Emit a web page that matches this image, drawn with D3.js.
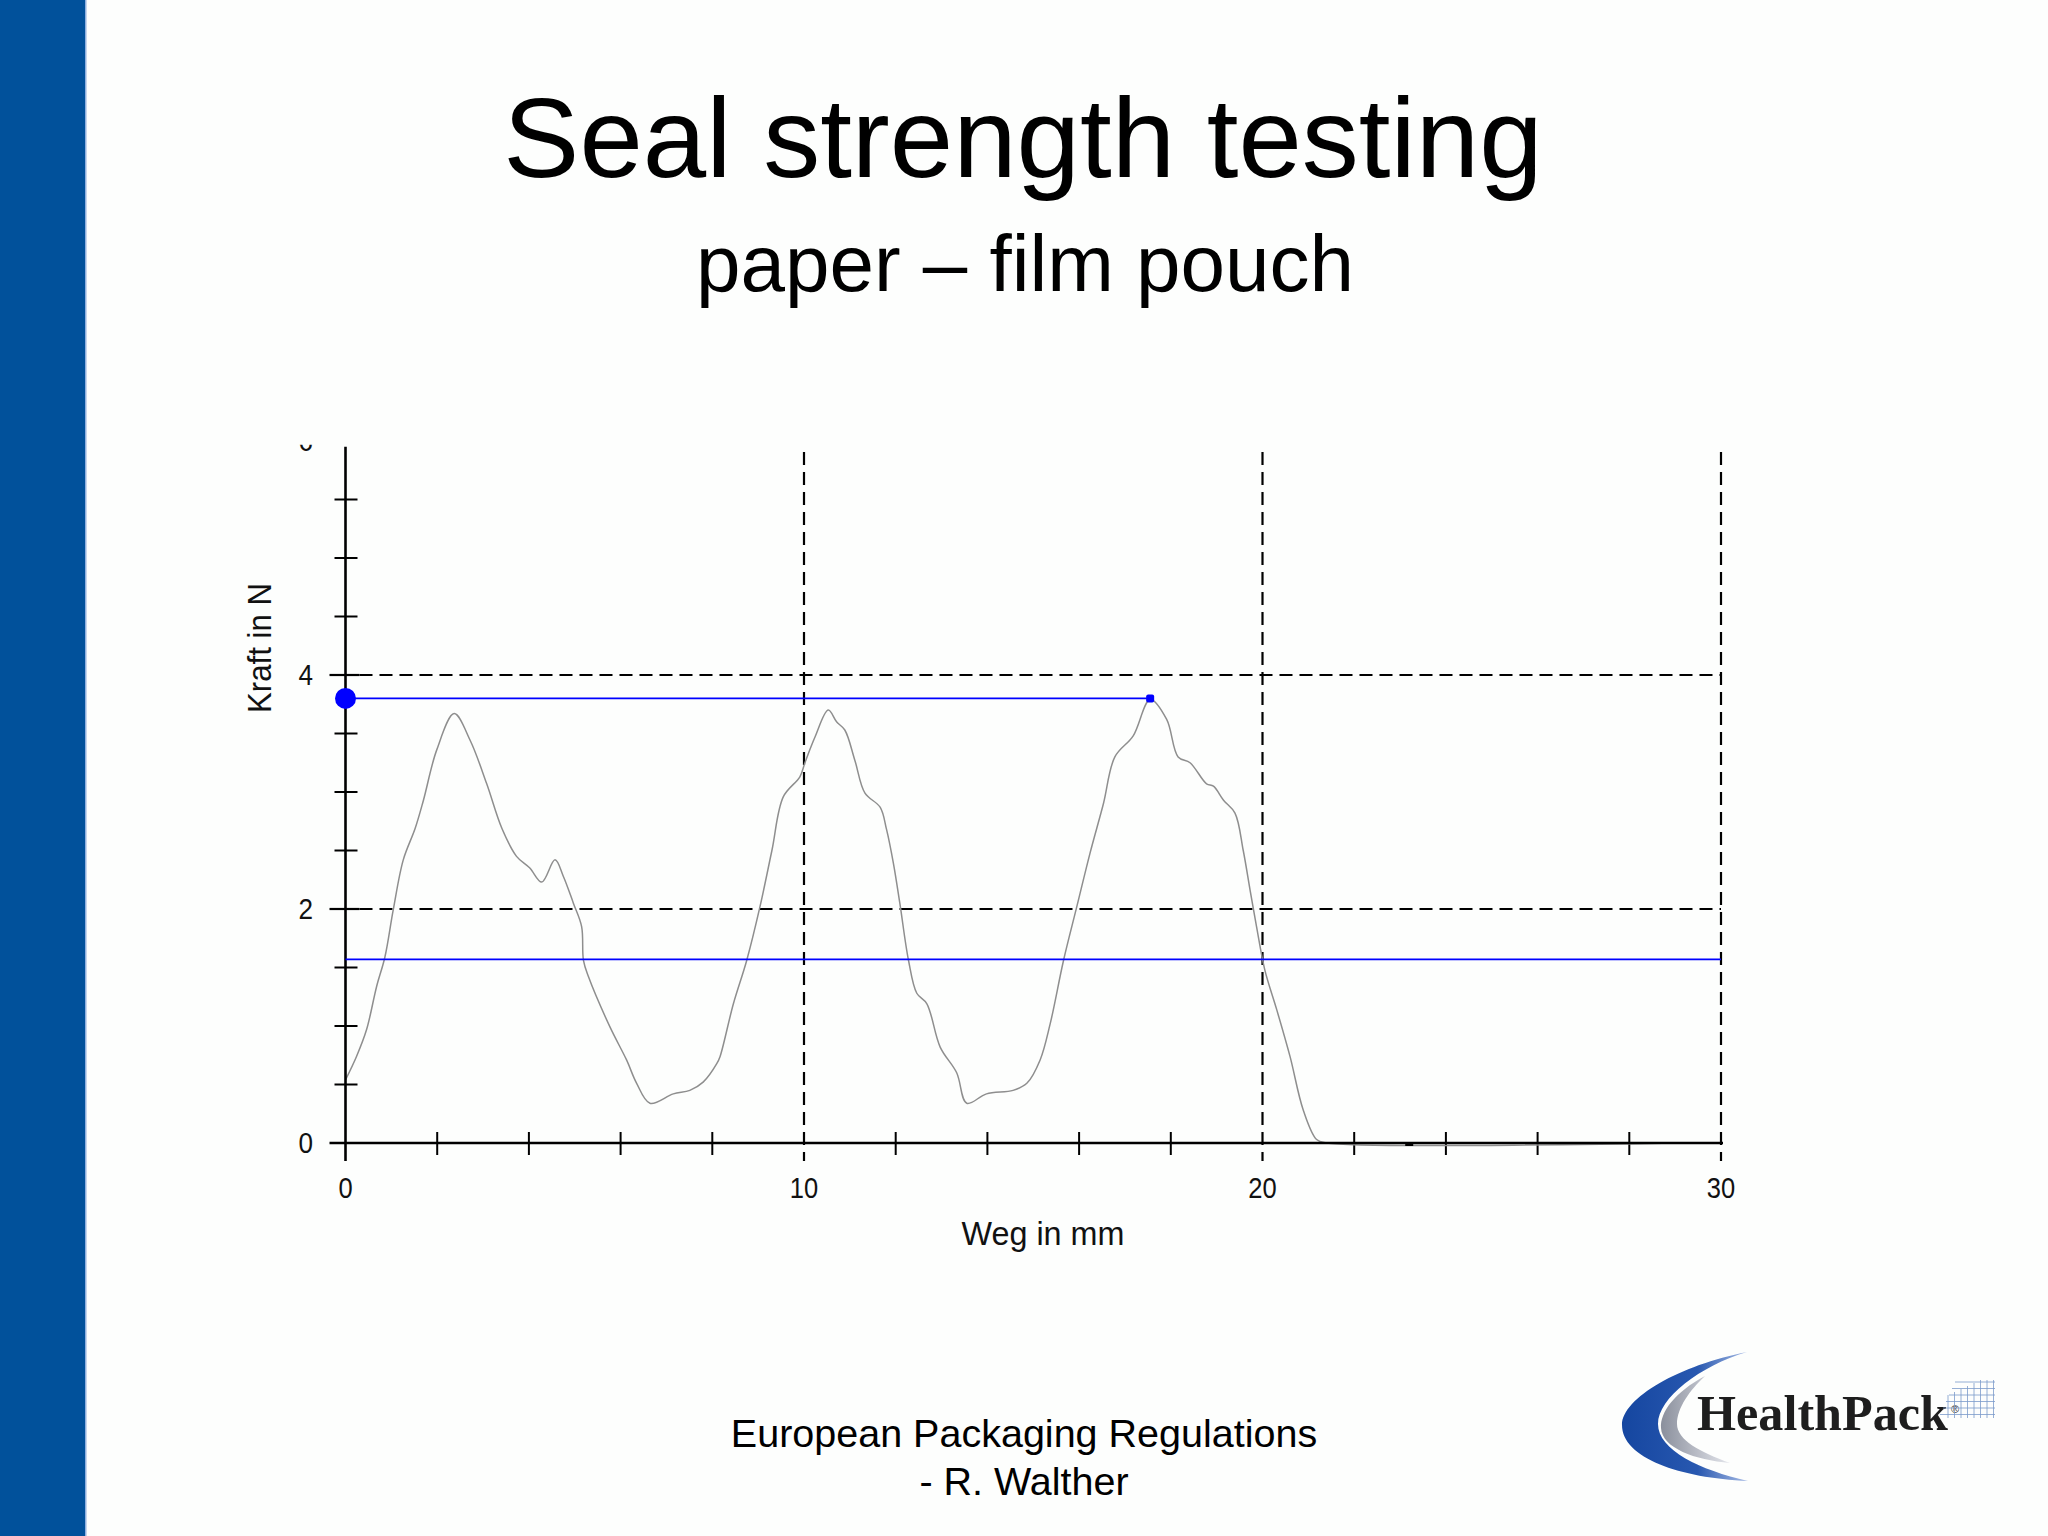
<!DOCTYPE html>
<html>
<head>
<meta charset="utf-8">
<script src="https://cdn.jsdelivr.net/npm/d3@7"></script>
<style>
  html, body { margin: 0; padding: 0; background: #fdfefd; }
  svg { display: block; }
</style>
</head>
<body>
<svg id="chart" width="2048" height="1536"></svg>
<script>
// ---------- data ----------
const titleText = "Seal strength testing";
const subtitleText = "paper \u2013 film pouch";
const footerLines = ["European Packaging Regulations", "- R. Walther"];
const xAxisTitle = "Weg in mm";
const yAxisTitle = "Kraft in N";

const xLabelTicks = [0, 10, 20, 30];
const xMinorTicks = [2, 4, 6, 8, 12, 14, 16, 18, 22, 24, 26, 28];
const yLabelTicks = [0, 2, 4, 6];
const yMinorTicks = [0.5, 1, 1.5, 2.5, 3, 3.5, 4.5, 5, 5.5];
const xGridValues = [10, 20, 30];
const yGridValues = [2, 4];

// Weg (mm) and Kraft (N) of the measured curve
const wegMm = [0, 0.24, 0.46, 0.68, 0.86, 1.04, 1.26, 1.52, 1.70, 1.99, 2.37, 2.72, 3.08, 3.41, 3.73, 4.02, 4.28, 4.57, 4.75, 4.97, 5.15, 5.19, 5.30, 5.77, 6.13, 6.35, 6.64, 7.15, 7.51, 7.80, 8.10, 8.17, 8.46, 8.75, 9.04, 9.30, 9.55, 9.91, 10.02, 10.24, 10.53, 10.71, 10.89, 11.11, 11.33, 11.66, 11.80, 11.95, 12.09, 12.28, 12.46, 12.68, 12.97, 13.33, 13.55, 13.98, 14.56, 14.86, 15.15, 15.37, 15.66, 15.95, 16.24, 16.53, 16.78, 17.18, 17.55, 17.91, 18.16, 18.42, 18.78, 18.93, 19.15, 19.40, 19.58, 19.73, 19.87, 20.05, 20.31, 20.60, 20.89, 21.18, 21.40, 29.0];
const kraftN = [0.54, 0.74, 0.97, 1.34, 1.59, 1.99, 2.42, 2.69, 2.93, 3.36, 3.67, 3.44, 3.07, 2.69, 2.45, 2.35, 2.23, 2.42, 2.28, 2.05, 1.85, 1.56, 1.42, 0.99, 0.71, 0.51, 0.34, 0.42, 0.45, 0.52, 0.68, 0.74, 1.19, 1.56, 2.02, 2.50, 2.96, 3.13, 3.25, 3.47, 3.70, 3.60, 3.53, 3.27, 2.99, 2.87, 2.68, 2.39, 2.05, 1.56, 1.28, 1.19, 0.82, 0.60, 0.34, 0.42, 0.45, 0.51, 0.71, 1.02, 1.56, 2.02, 2.48, 2.90, 3.30, 3.48, 3.79, 3.62, 3.30, 3.25, 3.07, 3.05, 2.93, 2.82, 2.50, 2.16, 1.85, 1.48, 1.14, 0.74, 0.28, 0.03, 0, 0];

const maxForce = 3.8;       // upper blue line (Fmax)
const maxForceWeg = 17.55;  // position of Fmax
const meanForce = 1.57;     // lower blue line
const cursorWeg = 23.2;     // small marker on the axis

// ---------- drawing ----------
const svg = d3.select("#chart");
const FONT = "'Liberation Sans', Arial, Helvetica, sans-serif";

svg.append("rect").attr("x", 0).attr("y", 0).attr("width", 2048).attr("height", 1536).attr("fill", "#fdfefd");
svg.append("rect").attr("x", 0).attr("y", 0).attr("width", 85).attr("height", 1536).attr("fill", "#01519b");
svg.append("rect").attr("x", 85).attr("y", 0).attr("width", 1.5).attr("height", 1536).attr("fill", "#8fb0e0");

// titles
svg.append("text").text(titleText)
  .attr("x", 1023).attr("y", 177).attr("text-anchor", "middle")
  .attr("font-family", FONT).attr("font-size", 114).attr("fill", "#000");
svg.append("text").text(subtitleText)
  .attr("x", 1025).attr("y", 291).attr("text-anchor", "middle")
  .attr("font-family", FONT).attr("font-size", 80).attr("fill", "#000");

// footer
svg.selectAll("text.footer").data(footerLines).join("text")
  .attr("class", "footer").text(d => d)
  .attr("x", 1024).attr("y", (d, i) => 1447 + i * 48).attr("text-anchor", "middle")
  .attr("font-family", FONT).attr("font-size", 39.5).attr("fill", "#000");

// scales
const x = d3.scaleLinear().domain([0, 30]).range([345.5, 1721]);
const y = d3.scaleLinear().domain([0, 6]).range([1143, 441]);

const g = svg.append("g");

// dashed grid lines
g.selectAll("line.hgrid").data(yGridValues).join("line")
  .attr("x1", x(0) + 14).attr("x2", x(30))
  .attr("y1", d => y(d)).attr("y2", d => y(d))
  .attr("stroke", "#000").attr("stroke-width", 2.2).attr("stroke-dasharray", "13,7");
g.selectAll("line.vgrid").data(xGridValues).join("line")
  .attr("x1", d => x(d)).attr("x2", d => x(d))
  .attr("y1", 452).attr("y2", y(0) + 18)
  .attr("stroke", "#000").attr("stroke-width", 2.2).attr("stroke-dasharray", "13,7");

// y ticks (crossing the axis)
g.selectAll("line.ymin").data(yMinorTicks).join("line")
  .attr("x1", x(0) - 11).attr("x2", x(0) + 12)
  .attr("y1", d => y(d)).attr("y2", d => y(d))
  .attr("stroke", "#000").attr("stroke-width", 2);
g.selectAll("line.ymaj").data(yLabelTicks.filter(v => v > 0 && v < 6)).join("line")
  .attr("x1", x(0) - 16).attr("x2", x(0) + 14)
  .attr("y1", d => y(d)).attr("y2", d => y(d))
  .attr("stroke", "#000").attr("stroke-width", 2.2);

// x ticks
g.selectAll("line.xmin").data(xMinorTicks).join("line")
  .attr("x1", d => x(d)).attr("x2", d => x(d))
  .attr("y1", y(0) - 11).attr("y2", y(0) + 12)
  .attr("stroke", "#000").attr("stroke-width", 2);

// measured curve (under the axes)
const pts = wegMm.map((w, i) => [w, kraftN[i]]);
g.append("path").datum(pts)
  .attr("d", d3.line().curve(d3.curveCatmullRom.alpha(0.5)).x(d => x(d[0])).y(d => y(d[1])))
  .attr("fill", "none").attr("stroke", "#8e8e8e").attr("stroke-width", 1.5);

// axes lines
g.append("line").attr("x1", x(0)).attr("x2", x(0)).attr("y1", y(5.95)).attr("y2", y(0) + 18)
  .attr("stroke", "#000").attr("stroke-width", 2.6);
g.append("line").attr("x1", x(0) - 16).attr("x2", x(30) + 2).attr("y1", y(0)).attr("y2", y(0))
  .attr("stroke", "#000").attr("stroke-width", 2.6);

// tick labels
g.selectAll("text.xl").data(xLabelTicks).join("text")
  .attr("class", "xl").text(d => d)
  .attr("x", d => x(d)).attr("y", y(0) + 55).attr("text-anchor", "middle")
  .attr("font-family", FONT).attr("font-size", 29).attr("fill", "#111")
  .attr("transform", d => `translate(${x(d)},0) scale(0.88,1) translate(${-x(d)},0)`);

svg.append("clipPath").attr("id", "topclip").append("rect")
  .attr("x", 250).attr("y", y(5.95) - 2).attr("width", 100).attr("height", 800);
g.selectAll("text.yl").data(yLabelTicks).join("text")
  .attr("class", "yl").text(d => d)
  .attr("x", 313).attr("y", d => y(d) + 10.5).attr("text-anchor", "end")
  .attr("font-family", FONT).attr("font-size", 29).attr("fill", "#111")
  .attr("transform", "translate(313,0) scale(0.9,1) translate(-313,0)")
  .attr("clip-path", "url(#topclip)");

// axis titles
g.append("text").text(xAxisTitle)
  .attr("x", 1043).attr("y", 1245).attr("text-anchor", "middle")
  .attr("font-family", FONT).attr("font-size", 34).attr("fill", "#111")
  .attr("textLength", 163).attr("lengthAdjust", "spacingAndGlyphs");
g.append("text").text(yAxisTitle)
  .attr("transform", "translate(271,648) rotate(-90)")
  .attr("text-anchor", "middle")
  .attr("font-family", FONT).attr("font-size", 33).attr("fill", "#111")
  .attr("textLength", 130).attr("lengthAdjust", "spacingAndGlyphs");

// blue result lines
g.append("line").attr("x1", x(0)).attr("x2", x(maxForceWeg))
  .attr("y1", y(maxForce)).attr("y2", y(maxForce))
  .attr("stroke", "#0000ff").attr("stroke-width", 1.8);
g.append("line").attr("x1", x(0)).attr("x2", x(30))
  .attr("y1", y(meanForce)).attr("y2", y(meanForce))
  .attr("stroke", "#0000ff").attr("stroke-width", 1.8);
g.append("circle").attr("cx", x(0)).attr("cy", y(maxForce)).attr("r", 10.5).attr("fill", "#0000ff");
g.append("rect").attr("x", x(maxForceWeg) - 4).attr("y", y(maxForce) - 4)
  .attr("width", 8).attr("height", 8).attr("rx", 2).attr("fill", "#0000ff");

// small cursor mark
g.append("rect").attr("x", x(cursorWeg) - 4).attr("y", y(0) - 1).attr("width", 8).attr("height", 4).attr("fill", "#000");

// ---------- logo ----------
const defs = svg.append("defs");
const gb = defs.append("linearGradient").attr("id", "blueGrad").attr("x1", "0").attr("x2", "1").attr("y1", "0").attr("y2", "0");
gb.append("stop").attr("offset", "0").attr("stop-color", "#1546a0");
gb.append("stop").attr("offset", "0.6").attr("stop-color", "#2858b0");
gb.append("stop").attr("offset", "1").attr("stop-color", "#a9bde6");
const gg = defs.append("linearGradient").attr("id", "grayGrad").attr("x1", "0").attr("x2", "1").attr("y1", "0").attr("y2", "0");
gg.append("stop").attr("offset", "0").attr("stop-color", "#8a8f9c");
gg.append("stop").attr("offset", "1").attr("stop-color", "#e4e6ec");

const logo = svg.append("g");
logo.append("path")
  .attr("d", "M1747 1352 C1680 1365 1622 1398 1622 1425 C1622 1458 1680 1478 1748 1481 C1700 1470 1658 1450 1658 1424 C1658 1398 1700 1366 1747 1352 Z")
  .attr("fill", "url(#blueGrad)");
logo.append("path")
  .attr("d", "M1705 1376 C1675 1392 1660 1412 1661 1428 C1662 1448 1695 1460 1730 1463 C1700 1452 1677 1440 1677 1424 C1677 1408 1690 1390 1705 1376 Z")
  .attr("fill", "url(#grayGrad)");
logo.append("text").text("HealthPack")
  .attr("x", 1697).attr("y", 1430)
  .attr("font-family", "'Liberation Serif', 'Times New Roman', serif").attr("font-weight", "bold")
  .attr("font-size", 50).attr("fill", "#1e1e1e")
  .attr("textLength", 251).attr("lengthAdjust", "spacingAndGlyphs");
logo.append("text").text("\u00ae")
  .attr("x", 1951).attr("y", 1413).attr("font-family", FONT).attr("font-size", 11).attr("fill", "#333");
// grid decoration
const gridCols = d3.range(0, 8), gridRows = d3.range(0, 6);
logo.selectAll("line.lgv").data(gridCols).join("line")
  .attr("x1", d => 1948 + d * 6.5).attr("x2", d => 1948 + d * 6.5)
  .attr("y1", d => 1380 + Math.max(0, 5 - d) * 3).attr("y2", 1418)
  .attr("stroke", "#7d9ccc").attr("stroke-width", 1).attr("opacity", 0.8);
logo.selectAll("line.lgh").data(gridRows).join("line")
  .attr("x1", d => 1940 + (5 - d) * 3).attr("x2", 1995)
  .attr("y1", d => 1382 + d * 6.5).attr("y2", d => 1382 + d * 6.5)
  .attr("stroke", "#7d9ccc").attr("stroke-width", 1).attr("opacity", 0.8);
</script>
</body>
</html>
